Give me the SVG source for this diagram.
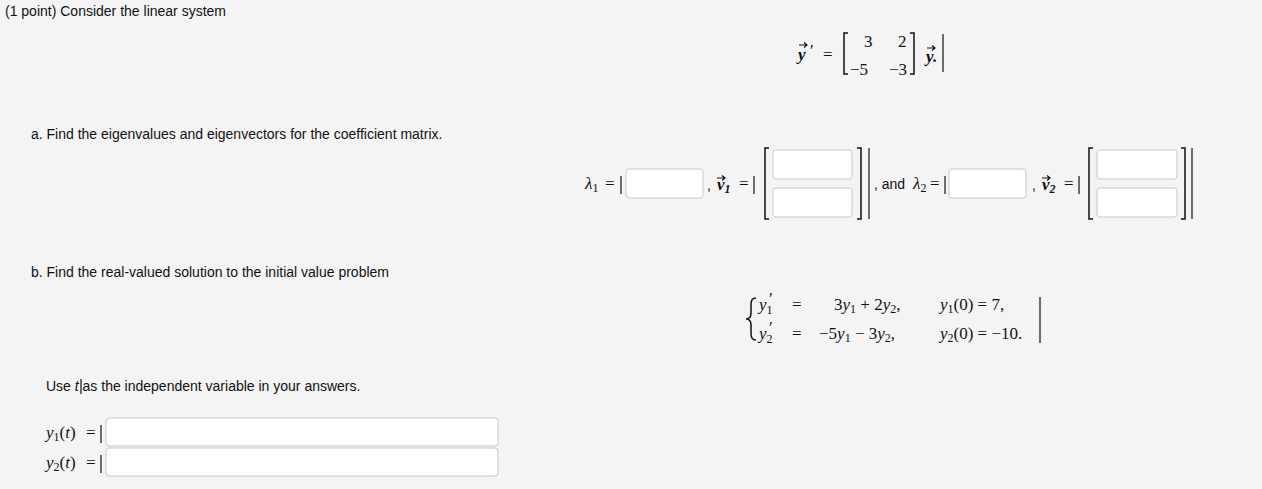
<svg xmlns="http://www.w3.org/2000/svg" width="1262" height="489" viewBox="0 0 1262 489">
<defs>
<path id="vec" d="M0,0 h8 M5,-2.5 L8,0 L5,2.5" fill="none" stroke="#111" stroke-width="1.2"/>
</defs>
<style>
.t{font-family:"Liberation Sans",Arial,sans-serif;font-size:14px;fill:#111}
.m{font-family:"Liberation Serif","Times New Roman",serif;font-size:17px;fill:#111}
.i{font-style:italic}
.b{font-weight:bold;font-style:italic}
.box{fill:#fff;stroke:#c8c8c8;stroke-width:1}
.br{fill:none;stroke:#111;stroke-width:1.5}
.bar{stroke:#111;stroke-width:1.2}
</style>
<rect width="1262" height="489" fill="#f4f4f4"/>
<text class="t" x="5" y="16">(1 point) Consider the linear system</text>
<g id="matrix">
<text class="m b" x="798" y="60">y</text><use href="#vec" x="799" y="45"/>
<text class="m" x="810" y="56" font-size="14">′</text>
<text class="m" x="823" y="60">=</text>
<path class="br" d="M848,33 h-4 v41 h4" stroke="#600"/>
<text class="m" x="864" y="47">3</text><text class="m" x="898" y="47">2</text>
<text class="m" x="850" y="75">−5</text><text class="m" x="889" y="75">−3</text>
<path class="br" d="M910,33 h4 v41 h-4"/>
<text class="m b" x="926" y="62">y.</text><use href="#vec" x="927" y="48"/>
<line class="bar" x1="943" y1="34" x2="943" y2="72"/>
</g>
<text class="t" x="31" y="139">a. Find the eigenvalues and eigenvectors for the coefficient matrix.</text>
<g id="eigen">
<text class="m i" x="585" y="189">λ<tspan font-size="12" dy="3" font-style="normal">1</tspan></text>
<text class="m" x="605" y="189">=</text><line class="bar" x1="621" y1="176" x2="621" y2="194"/>
<rect class="box" x="626" y="169" width="77" height="29" rx="3"/>
<text class="t" x="707" y="190">,</text>
<text class="m b" x="717" y="190">v<tspan font-size="12" dy="3">1</tspan></text><use href="#vec" x="717" y="178"/>
<text class="m" x="739" y="189">=</text><line class="bar" x1="754" y1="176" x2="754" y2="194"/>
<path class="br" d="M769,148 h-4 v71 h4"/>
<rect class="box" x="773" y="150" width="79" height="29" rx="3"/>
<rect class="box" x="773" y="188" width="79" height="29" rx="3"/>
<path class="br" d="M857,148 h4 v71 h-4"/>
<line class="bar" x1="869" y1="148" x2="869" y2="219"/>
<text class="t" x="874" y="189">, and</text>
<text class="m i" x="913" y="189">λ<tspan font-size="12" dy="3" font-style="normal">2</tspan></text>
<text class="m" x="930" y="189">=</text><line class="bar" x1="945" y1="176" x2="945" y2="194"/>
<rect class="box" x="949" y="169" width="77" height="29" rx="3"/>
<text class="t" x="1032" y="190">,</text>
<text class="m b" x="1042" y="190">v<tspan font-size="12" dy="3">2</tspan></text><use href="#vec" x="1042" y="178"/>
<text class="m" x="1064" y="189">=</text><line class="bar" x1="1079" y1="176" x2="1079" y2="194"/>
<path class="br" d="M1093,148 h-4 v71 h4"/>
<rect class="box" x="1097" y="150" width="80" height="29" rx="3"/>
<rect class="box" x="1097" y="188" width="80" height="29" rx="3"/>
<path class="br" d="M1181,148 h4 v71 h-4"/>
<line class="bar" x1="1192" y1="148" x2="1192" y2="219"/>
</g>
<text class="t" x="31" y="277">b. Find the real-valued solution to the initial value problem</text>
<g id="system">
<path class="br" stroke-width="1.2" d="M756,298 q-5,0 -5,6 v9 q0,6 -5,6 q5,0 5,6 v9 q0,6 5,6"/>
<text class="m i" x="759" y="310">y<tspan font-size="12" dy="4" font-style="normal">1</tspan></text>
<text class="m" x="769" y="304" font-size="13">′</text>
<text class="m i" x="759" y="339">y<tspan font-size="12" dy="4" font-style="normal">2</tspan></text>
<text class="m" x="769" y="333" font-size="13">′</text>
<text class="m" x="792" y="310">=</text><text class="m" x="792" y="339">=</text>
<text class="m" x="834" y="310">3<tspan class="i">y</tspan><tspan font-size="12" dy="3">1</tspan><tspan dy="-3"> + 2</tspan><tspan class="i">y</tspan><tspan font-size="12" dy="3">2</tspan><tspan dy="-3">,</tspan></text>
<text class="m" x="819" y="339">−5<tspan class="i">y</tspan><tspan font-size="12" dy="3">1</tspan><tspan dy="-3"> − 3</tspan><tspan class="i">y</tspan><tspan font-size="12" dy="3">2</tspan><tspan dy="-3">,</tspan></text>
<text class="m" x="940" y="310"><tspan class="i">y</tspan><tspan font-size="12" dy="3">1</tspan><tspan dy="-3">(0) = 7,</tspan></text>
<text class="m" x="940" y="339"><tspan class="i">y</tspan><tspan font-size="12" dy="3">2</tspan><tspan dy="-3">(0) = −10.</tspan></text>
<line class="bar" x1="1040" y1="297" x2="1040" y2="343"/>
</g>
<text class="t" x="46" y="391">Use <tspan font-style="italic">t</tspan> as the independent variable in your answers.</text>
<line class="bar" x1="81" y1="379" x2="81" y2="394"/>
<g id="answers">
<text class="m" x="46" y="438"><tspan class="i">y</tspan><tspan font-size="12" dy="3">1</tspan><tspan dy="-3">(</tspan><tspan class="i">t</tspan>)</text>
<text class="m" x="86" y="438">=</text><line class="bar" x1="101" y1="425" x2="101" y2="443"/>
<rect class="box" x="106" y="418" width="392" height="28" rx="3"/>
<text class="m" x="46" y="468"><tspan class="i">y</tspan><tspan font-size="12" dy="3">2</tspan><tspan dy="-3">(</tspan><tspan class="i">t</tspan>)</text>
<text class="m" x="86" y="468">=</text><line class="bar" x1="101" y1="455" x2="101" y2="473"/>
<rect class="box" x="106" y="448" width="392" height="28" rx="3"/>
</g>
</svg>
